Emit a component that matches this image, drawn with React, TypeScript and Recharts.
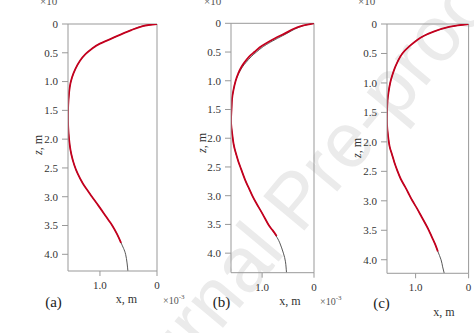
import React from 'react';
import { LineChart, Line, XAxis, YAxis, ReferenceLine } from 'recharts';

// Panel (a): depth z in m, deflection x in units of 1e-3 m
const zA = [0, 0.035, 0.105, 0.175, 0.255, 0.34, 0.42, 0.52, 0.64, 0.78, 0.93, 1.1, 1.3, 1.5, 1.7, 1.9, 2.1, 2.27, 2.45, 2.6, 2.77, 2.9, 3.0, 3.15, 3.32, 3.42, 3.5, 3.65, 3.8, 3.9, 4.0, 4.15, 4.29];
const blackA = [0, 0.25, 0.45, 0.62, 0.80, 1.0, 1.13, 1.25, 1.35, 1.43, 1.49, 1.53, 1.55, 1.56, 1.56, 1.55, 1.53, 1.50, 1.45, 1.39, 1.30, 1.21, 1.14, 1.03, 0.91, 0.84, 0.785, 0.70, 0.63, 0.585, 0.55, 0.525, 0.51];
const redA = [0, 0.25, 0.45, 0.62, 0.80, 1.0, 1.13, 1.25, 1.35, 1.43, 1.49, 1.53, 1.55, 1.56, 1.56, 1.55, 1.53, 1.50, 1.45, 1.39, 1.30, 1.21, 1.14, 1.03, 0.91, 0.84, 0.785, 0.70, 0.63];

// Panel (b)
const zB = [0, 0.04, 0.1, 0.175, 0.26, 0.35, 0.42, 0.5, 0.58, 0.68, 0.76, 0.87, 1.0, 1.15, 1.32, 1.5, 1.7, 1.9, 2.1, 2.25, 2.4, 2.5, 2.72, 2.86, 3.0, 3.15, 3.32, 3.5, 3.6, 3.7, 3.82, 4.0, 4.15, 4.34];
const blackB = [0, 0.2, 0.37, 0.52, 0.70, 0.88, 1.0, 1.11, 1.21, 1.31, 1.38, 1.45, 1.51, 1.55, 1.58, 1.59, 1.60, 1.58, 1.55, 1.51, 1.46, 1.42, 1.33, 1.26, 1.19, 1.10, 0.99, 0.88, 0.80, 0.73, 0.66, 0.59, 0.55, 0.53];
const redB = [0, 0.22, 0.40, 0.56, 0.75, 0.93, 1.05, 1.15, 1.25, 1.34, 1.40, 1.46, 1.51, 1.55, 1.58, 1.59, 1.60, 1.58, 1.55, 1.51, 1.46, 1.42, 1.33, 1.26, 1.19, 1.10, 0.99, 0.88, 0.80, 0.72];

// Panel (c)
const zC = [0, 0.046, 0.13, 0.2, 0.27, 0.38, 0.5, 0.62, 0.74, 0.87, 1.0, 1.15, 1.3, 1.5, 1.7, 1.9, 2.08, 2.2, 2.35, 2.5, 2.63, 2.76, 2.88, 3.0, 3.12, 3.25, 3.38, 3.5, 3.62, 3.74, 3.86, 4.0, 4.12, 4.23];
const blackC = [0, 0.35, 0.66, 0.84, 0.97, 1.12, 1.25, 1.33, 1.39, 1.44, 1.48, 1.51, 1.53, 1.54, 1.54, 1.52, 1.49, 1.45, 1.40, 1.34, 1.28, 1.20, 1.13, 1.06, 0.98, 0.90, 0.82, 0.75, 0.69, 0.63, 0.58, 0.52, 0.49, 0.46];
const redC = [0, 0.35, 0.66, 0.84, 0.97, 1.12, 1.25, 1.33, 1.39, 1.44, 1.48, 1.51, 1.53, 1.54, 1.54, 1.52, 1.49, 1.45, 1.40, 1.34, 1.28, 1.20, 1.13, 1.06, 0.98, 0.90, 0.82, 0.75, 0.69, 0.63, 0.58];

const zTicks = [0, 0.5, 1.0, 1.5, 2.0, 2.5, 3.0, 3.5, 4.0];
const xTicks = [0, 1.0];

const fmt = (v: number) => (v === 0 ? '0' : v.toFixed(1));

const buildRows = (z: number[], black: number[], red: number[]) =>
  z.map((zv, i) => ({ z: zv, xb: black[i], xr: i < red.length ? red[i] : undefined }));

const AXIS = '#999';
const TXT = '#333';
const FONT = 'Liberation Serif';

type PanelProps = {
  z: number[];
  black: number[];
  red: number[];
  left: number;
  right: number;
  top: number;
  bottom: number;
  xMax: number;
  zMax: number;
};

const Y_W = 60;
const X_H = 30;

function Panel({ z, black, red, left, right, top, bottom, xMax, zMax }: PanelProps) {
  const plotW = right - left;
  const width = Y_W + plotW + 4;
  const rows = buildRows(z, black, red);
  return (
    <div style={{ position: 'absolute', left: left - Y_W, top: 0, width, height: 333 }}>
      <LineChart
        width={width}
        height={333}
        layout="vertical"
        data={rows}
        margin={{ top, right: 4, left: 0, bottom: 333 - bottom - X_H }}
      >
        <XAxis
          type="number"
          reversed
          domain={[0, xMax]}
          ticks={xTicks}
          tickFormatter={fmt}
          allowDataOverflow
          height={X_H}
          stroke={AXIS}
          tickSize={5}
          tickMargin={5}
          tick={{ fill: TXT, fontSize: 11, fontFamily: FONT }}
        />
        <YAxis
          type="number"
          dataKey="z"
          domain={[0, zMax]}
          ticks={zTicks}
          tickFormatter={fmt}
          allowDataOverflow
          width={Y_W}
          stroke={AXIS}
          tickSize={6}
          tickMargin={4}
          tick={{ fill: TXT, fontSize: 11, fontFamily: FONT }}
        />
        <ReferenceLine y={0} stroke={AXIS} strokeWidth={1} />
        <ReferenceLine x={0} stroke={AXIS} strokeWidth={1} />
        <Line dataKey="xb" type="natural" stroke="#444" strokeWidth={0.9} dot={false} isAnimationActive={false} />
        <Line dataKey="xr" type="natural" stroke="#c4001e" strokeWidth={1.8} dot={false} isAnimationActive={false} connectNulls={false} />
      </LineChart>
    </div>
  );
}

export default function App() {
  return (
    <div style={{ position: 'absolute', left: 0, top: 0, width: 474, height: 333, background: '#fff', overflow: 'hidden' }}>
      <svg width={474} height={333} style={{ position: 'absolute', left: 0, top: 0 }}>
        <text
          x={295}
          y={200}
          transform="rotate(-50 295 200)"
          textAnchor="middle"
          dominantBaseline="central"
          fontFamily="Liberation Sans"
          fontSize={78}
          fill="#ebebeb"
        >
          Journal Pre-proof
        </text>
      </svg>
      <Panel z={zA} black={blackA} red={redA} left={68} right={157} top={24} bottom={271} xMax={1.56} zMax={4.29} />
      <Panel z={zB} black={blackB} red={redB} left={231} right={314} top={23.3} bottom={272.7} xMax={1.6} zMax={4.34} />
      <Panel z={zC} black={blackC} red={redC} left={386.7} right={468.3} top={24} bottom={273.3} xMax={1.54} zMax={4.23} />
      <svg width={474} height={333} style={{ position: 'absolute', left: 0, top: 0, pointerEvents: 'none' }} fontFamily={FONT}>
        {/* top multipliers */}
        <text x={40} y={5} fontSize={11} fill="#555">×10<tspan dy={-5} fontSize={8}>-3</tspan></text>
        <text x={204} y={5} fontSize={11} fill="#555">×10<tspan dy={-5} fontSize={8}>-3</tspan></text>
        <text x={358} y={5} fontSize={11} fill="#555">×10<tspan dy={-5} fontSize={8}>-3</tspan></text>
        {/* bottom multipliers */}
        <text x={163} y={304} fontSize={10} fill="#555">×10<tspan dy={-5} fontSize={7}>-3</tspan></text>
        <text x={320} y={305} fontSize={10} fill="#555">×10<tspan dy={-5} fontSize={7}>-3</tspan></text>
        {/* x axis titles */}
        <text x={126.5} y={303} fontSize={12} fill={TXT} textAnchor="middle">x, m</text>
        <text x={290} y={305} fontSize={12} fill={TXT} textAnchor="middle">x, m</text>
        <text x={444} y={316} fontSize={12} fill={TXT} textAnchor="middle">x, m</text>
        {/* panel letters */}
        <text x={53.5} y={307} fontSize={15} fill="#222" textAnchor="middle">(a)</text>
        <text x={221.5} y={307} fontSize={15} fill="#222" textAnchor="middle">(b)</text>
        <text x={381.5} y={308} fontSize={15} fill="#222" textAnchor="middle">(c)</text>
        {/* z axis titles */}
        <text x={38} y={145} fontSize={12} fill={TXT} textAnchor="middle" dominantBaseline="central" transform="rotate(-90 38 145)"><tspan fontStyle="italic">z</tspan>, m</text>
        <text x={201.7} y={143} fontSize={12} fill={TXT} textAnchor="middle" dominantBaseline="central" transform="rotate(-90 201.7 143)"><tspan fontStyle="italic">z</tspan>, m</text>
        <text x={356.7} y={148} fontSize={12} fill={TXT} textAnchor="middle" dominantBaseline="central" transform="rotate(-90 356.7 148)"><tspan fontStyle="italic">z</tspan>, m</text>
      </svg>
    </div>
  );
}
